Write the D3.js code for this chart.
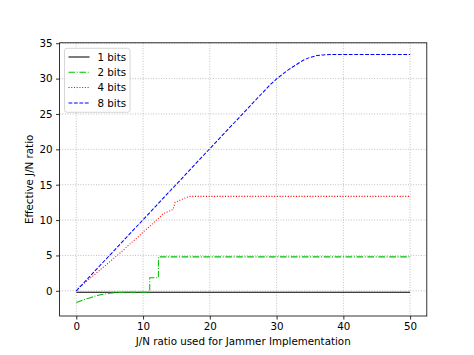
<!DOCTYPE html>
<html>
<head>
<meta charset="utf-8">
<script src="https://cdn.jsdelivr.net/npm/d3@7"></script>
<style>
  html, body { margin: 0; padding: 0; background: #fff; }
  svg { display: block; font-family: "DejaVu Sans", sans-serif; }
</style>
</head>
<body>
<svg id="chart" width="474" height="355"></svg>
<script>
// ---- data ----
const xTicks = [0, 10, 20, 30, 40, 50];
const yTicks = [0, 5, 10, 15, 20, 25, 30, 35];
const seriesNames = ["1 bits", "2 bits", "4 bits", "8 bits"];

const bits1X = [0, 50];
const bits1Y = [-0.2, -0.2];

const bits2X = [0, 1, 2, 3, 4, 5, 6, 8, 11, 11, 12.3, 12.3, 50];
const bits2Y = [-1.65, -1.3, -1.0, -0.7, -0.5, -0.35, -0.25, -0.2, -0.2, 1.85, 1.85, 4.8, 4.8];

const bits4X = [0, 0.5, 1, 2, 3, 4, 5, 6, 7, 8, 9, 10, 11, 12, 12.5, 13, 14, 14.5, 14.8, 15.5, 16.5, 17, 50];
const bits4Y = [0, 0.6, 0.9, 1.7, 2.5, 3.3, 4.1, 4.9, 5.7, 6.6, 7.4, 8.3, 9.1, 10.0, 10.4, 10.9, 11.3, 11.5, 12.5, 12.8, 13.2, 13.35, 13.35];

const bits8X = [0, 10, 20, 29, 30, 31, 32, 33, 34, 35, 36, 37, 38, 50];
const bits8Y = [0, 10.05, 20.1, 29.1, 29.95, 30.7, 31.4, 32.0, 32.6, 33.0, 33.25, 33.35, 33.4, 33.4];

// ---- layout ----
const svg = d3.select("#chart");
const mLeft = 59.6, mRight = 426.8, mTop = 42.8, mBottom = 316;

const x = d3.scaleLinear().domain([-2.5, 52.5]).range([mLeft, mRight]);
const y = d3.scaleLinear().domain([-3.56, 35.06]).range([mBottom, mTop]);

// grid
const grid = svg.append("g");
grid.selectAll(".gx").data(xTicks).enter().append("line")
  .attr("x1", d => x(d)).attr("x2", d => x(d))
  .attr("y1", mTop).attr("y2", mBottom)
  .attr("stroke", "#b0b0b0").attr("stroke-width", 0.8)
  .attr("stroke-dasharray", "1,1.6");
grid.selectAll(".gy").data(yTicks).enter().append("line")
  .attr("x1", mLeft).attr("x2", mRight)
  .attr("y1", d => y(d)).attr("y2", d => y(d))
  .attr("stroke", "#b0b0b0").attr("stroke-width", 0.8)
  .attr("stroke-dasharray", "1,1.6");

// series
const series = [
  { name: seriesNames[0], xs: bits1X, ys: bits1Y, color: "#000000", dash: null },
  { name: seriesNames[1], xs: bits2X, ys: bits2Y, color: "#00bf00", dash: "6.6,1.65,1.03,1.65" },
  { name: seriesNames[2], xs: bits4X, ys: bits4Y, color: "#ff0000", dash: "1.03,1.7" },
  { name: seriesNames[3], xs: bits8X, ys: bits8Y, color: "#0000ff", dash: "3.8,1.65" }
];

const lw = 1.03;
const line = d3.line().x(d => x(d[0])).y(d => y(d[1]));
const plot = svg.append("g");
series.forEach(s => {
  const pts = s.xs.map((v, i) => [v, s.ys[i]]);
  plot.append("path")
    .attr("d", line(pts))
    .attr("fill", "none")
    .attr("stroke", s.color)
    .attr("stroke-width", lw)
    .attr("stroke-dasharray", s.dash);
});

// axes
const xAxis = d3.axisBottom(x).tickValues(xTicks).tickSize(3.6).tickPadding(3.5).tickFormat(d3.format("d"));
const yAxis = d3.axisLeft(y).tickValues(yTicks).tickSize(3.6).tickPadding(3.5).tickFormat(d3.format("d"));

const gx = svg.append("g").attr("transform", `translate(0,${mBottom})`).call(xAxis);
const gy = svg.append("g").attr("transform", `translate(${mLeft},0)`).call(yAxis);
[gx, gy].forEach(g => {
  g.select(".domain").remove();
  g.selectAll("line").attr("stroke", "#000").attr("stroke-width", 0.8);
  g.selectAll("text").attr("font-size", "10.3px").attr("fill", "#000")
    .attr("font-family", "DejaVu Sans, sans-serif");
});

// frame
svg.append("rect")
  .attr("x", mLeft).attr("y", mTop)
  .attr("width", mRight - mLeft).attr("height", mBottom - mTop)
  .attr("fill", "none").attr("stroke", "#000").attr("stroke-width", 0.8);

// axis labels
svg.append("text")
  .attr("x", (mLeft + mRight) / 2).attr("y", 345)
  .attr("text-anchor", "middle").attr("font-size", "10.3px")
  .text("J/N ratio used for Jammer Implementation");
svg.append("text")
  .attr("transform", `translate(33,${(mTop + mBottom) / 2}) rotate(-90)`)
  .attr("text-anchor", "middle").attr("font-size", "10.3px")
  .text("Effective J/N ratio");

// legend
const lg = svg.append("g");
lg.append("rect")
  .attr("x", 64.5).attr("y", 48.3).attr("width", 65.5).attr("height", 64)
  .attr("rx", 2.5).attr("ry", 2.5)
  .attr("fill", "#fff").attr("fill-opacity", 0.8)
  .attr("stroke", "#cccccc").attr("stroke-width", 0.8);
series.forEach((s, i) => {
  const yy = 57 + i * 15.3;
  lg.append("line")
    .attr("x1", 68.5).attr("x2", 89.5).attr("y1", yy).attr("y2", yy)
    .attr("stroke", s.color).attr("stroke-width", lw)
    .attr("stroke-dasharray", s.dash);
  lg.append("text")
    .attr("x", 97.5).attr("y", yy).attr("dy", "0.35em")
    .attr("font-size", "10.3px")
    .text(s.name);
});
</script>
</body>
</html>
